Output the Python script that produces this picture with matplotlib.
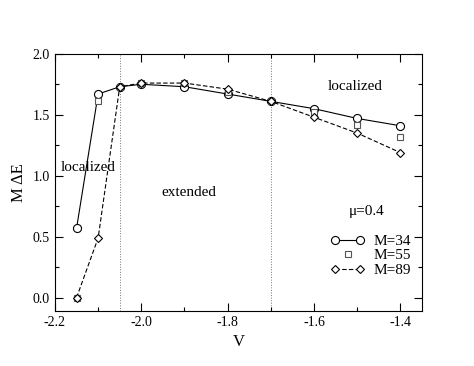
import matplotlib
matplotlib.use('Agg')
import matplotlib.pyplot as plt
from matplotlib.ticker import MultipleLocator
from matplotlib.legend_handler import HandlerLine2D

plt.rcParams['font.family'] = ['Liberation Serif', 'DejaVu Serif']

V = [-2.15, -2.1, -2.05, -2.0, -1.9, -1.8, -1.7, -1.6, -1.5, -1.4]
m34 = [0.57, 1.67, 1.73, 1.75, 1.73, 1.67, 1.61, 1.55, 1.47, 1.41]
m55 = [0.0, 1.61, 1.73, 1.76, 1.76, 1.69, 1.61, 1.52, 1.42, 1.32]
m89 = [0.0, 0.49, 1.73, 1.76, 1.76, 1.71, 1.61, 1.48, 1.35, 1.19]
boundaries = [-2.05, -1.7]

fig = plt.figure(figsize=(4.74, 3.66), dpi=100)
ax = fig.add_axes([0.116, 0.151, 0.774, 0.702])

ax.plot(V, m34, ls='-', color='black', lw=0.8, marker='o', ms=5.8,
        mfc='white', mec='black', mew=0.8, label='M=34', zorder=3)
h55, = ax.plot(V, m55, ls='none', marker='s', ms=4.3,
               mfc='white', mec='#555555', mew=0.8, label='M=55', zorder=4)
ax.plot(V, m89, ls=(0, (4, 2)), color='black', lw=0.8, marker='D', ms=4.0,
        mfc='white', mec='black', mew=0.8, label='M=89', zorder=5)

for b in boundaries:
    ax.axvline(b, color='#777777', lw=0.7, ls=':', zorder=1)

ax.set_xlim(-2.2, -1.35)
ax.set_ylim(-0.107, 2.0)
ax.xaxis.set_major_locator(MultipleLocator(0.2))
ax.xaxis.set_minor_locator(MultipleLocator(0.1))
ax.yaxis.set_major_locator(MultipleLocator(0.5))
ax.yaxis.set_minor_locator(MultipleLocator(0.25))
ax.xaxis.set_major_formatter(plt.FuncFormatter(lambda v, p: '%.1f' % v))
ax.yaxis.set_major_formatter(plt.FuncFormatter(lambda v, p: '%.1f' % v))
ax.tick_params(which='both', direction='in', top=True, right=True,
               labelsize=10, width=0.8)
ax.tick_params(which='major', length=6)
ax.tick_params(which='minor', length=3)
for s in ax.spines.values():
    s.set_linewidth(0.8)

ax.set_xlabel('V', fontsize=12)
ax.set_ylabel('M ΔE', fontsize=12)

ax.text(-2.124, 1.07, 'localized', fontsize=11, ha='center', va='center')
ax.text(-1.89, 0.865, 'extended', fontsize=11, ha='center', va='center')
ax.text(-1.505, 1.73, 'localized', fontsize=11, ha='center', va='center')
ax.text(-1.479, 0.706, 'μ=0.4', fontsize=11, ha='center', va='center')

ax.legend(loc='lower right', bbox_to_anchor=(1.0, 0.09), frameon=False,
          fontsize=11, numpoints=2, handlelength=2.2, handletextpad=0.6,
          labelspacing=0.05, borderaxespad=0.3,
          handler_map={h55: HandlerLine2D(numpoints=1)})

fig.savefig('out.png', dpi=100)
